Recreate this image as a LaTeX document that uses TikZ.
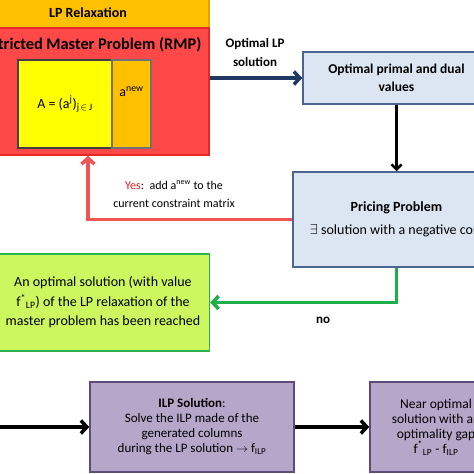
\documentclass[tikz,border=0pt]{standalone}
\usepackage{fontspec}
\setmainfont{Carlito}
\usetikzlibrary{arrows.meta,calc}
\definecolor{hdrorange}{HTML}{FFC000}
\definecolor{hdrborder}{HTML}{E5A100}
\definecolor{rmpred}{HTML}{FF4848}
\definecolor{rmpborder}{HTML}{E82828}
\definecolor{amat}{HTML}{FFFF00}
\definecolor{bluefill}{HTML}{DCE6F2}
\definecolor{blueborder}{HTML}{4A6590}
\definecolor{greenfill}{HTML}{CCF75E}
\definecolor{greenborder}{HTML}{2DB04E}
\definecolor{purplefill}{HTML}{B6A6CA}
\definecolor{purpleborder}{HTML}{5F4B7A}
\definecolor{navy}{HTML}{1F3864}
\definecolor{yesred}{HTML}{F25555}
\definecolor{yestext}{HTML}{E02020}
\definecolor{noarrow}{HTML}{1DB04A}
\tikzset{
  box/.style={rectangle, draw, inner sep=0pt, align=center, line width=1.5pt},
  bluebox/.style={box, fill=bluefill, draw=blueborder},
  purplebox/.style={box, fill=purplefill, draw=purpleborder},
  arr/.style={line width=3.5pt, -{Straight Barb[length=6pt,width=13pt,line width=3.5pt]}},
  txt/.style={font=\fontsize{14}{18}\selectfont},
  small/.style={font=\fontsize{12}{18}\selectfont},
}
\begin{document}
\begin{tikzpicture}[x=1pt,y=-1pt]
\useasboundingbox (0,0) rectangle (474,474);
\clip (0,0) rectangle (474,474);
% LP relaxation header and RMP
\node[box, fill=hdrorange, draw=hdrborder, minimum width=242, minimum height=30,
      font=\fontsize{14}{16}\selectfont\bfseries] (hdr) at (88,13) {LP Relaxation};
\node[box, fill=rmpred, draw=rmpborder, minimum width=242, minimum height=127] (rmp) at (88,91.5) {};
\node[font=\fontsize{16.3}{17}\selectfont\bfseries] (rmptitle) at (88,45) {Restricted Master Problem (RMP)};
\node[box, fill=amat, draw=black!75, minimum width=94, minimum height=88, txt] (amat) at (65,104)
  {A = (a\textsuperscript{j})\textsubscript{j\,$\in$\,J}};
\node[box, fill=hdrorange, draw=black!55, minimum width=39, minimum height=88, txt] (anew) at (131.5,104)
  {a\textsuperscript{new}\\[6pt]};
% Optimal primal and dual values
\node[bluebox, minimum width=187, minimum height=52, font=\fontsize{13.5}{18}\selectfont\bfseries] (opt) at (396.5,78)
  {Optimal primal and dual\\values};
\node[font=\fontsize{13}{19}\selectfont\bfseries, align=center] (optlbl) at (255,52) {Optimal LP\\solution};
% Pricing problem
\node[bluebox, minimum width=207, minimum height=95, font=\fontsize{14}{23}\selectfont] (pricing) at (396.5,219.5)
  {\textbf{Pricing Problem}\\$\exists$ solution with a negative cost};
% Green result box
\node[box, fill=greenfill, draw=greenborder, minimum width=213, minimum height=97,
      font=\fontsize{14}{19.5}\selectfont] (green) at (103,302.5)
  {An optimal solution (with value\\f\textsuperscript{*}\textsubscript{LP}) of the LP relaxation of the\\master problem has been reached};
% Bottom row
\node[purplebox, minimum width=204, minimum height=90, font=\fontsize{13}{15}\selectfont] (ilp) at (192,427)
  {\textbf{ILP Solution}:\\Solve the ILP made of the\\generated columns\\during the LP solution $\to$ f\textsubscript{ILP}};
\node[purplebox, minimum width=132, minimum height=90, font=\fontsize{13.5}{15}\selectfont] (near) at (436,427)
  {Near optimal\\solution with an\\optimality gap\\f\textsuperscript{*}\textsubscript{LP} - f\textsubscript{ILP}};
\coordinate (start) at (-10,427);
% Connectors
\draw[arr, navy, line width=4pt] (rmp.east |- opt.west) -- (opt.west);
\draw[arr, black, line width=2.5pt, -{Straight Barb[length=5pt,width=10pt,line width=2.5pt]}] (opt.south) -- (pricing.north);
\draw[arr, yesred] (pricing.west) -| (rmp.south);
\node[small, align=center] (yeslbl) at (174,194) {\textcolor{yestext}{Yes}:\, add a\textsuperscript{new} to the\\current constraint matrix};
\draw[arr, noarrow] (pricing.south) |- (green.east);
\node[font=\fontsize{13}{16}\selectfont\bfseries] (nolbl) at (323,320) {no};
\draw[arr, black] (start) -- (ilp.west);
\draw[arr, black] (ilp.east) -- (near.west);
\end{tikzpicture}
\end{document}
